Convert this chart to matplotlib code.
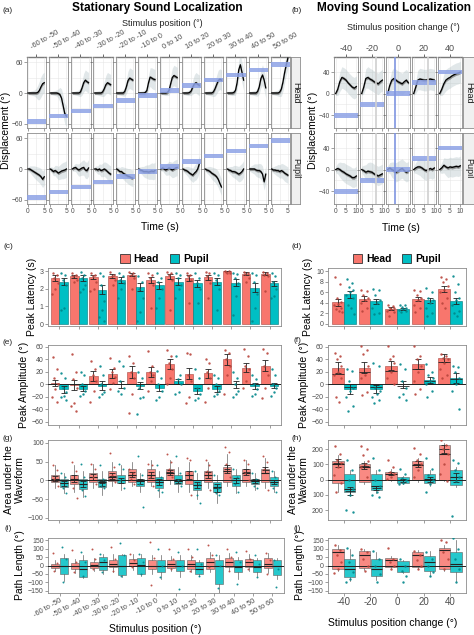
import matplotlib
matplotlib.use("Agg")
import matplotlib.pyplot as plt
import matplotlib.transforms as mtransforms
from matplotlib.patches import Patch
import numpy as np

plt.rcParams['font.family'] = ['Liberation Sans', 'DejaVu Sans']

W, H = 474, 635
RED = '#F8766D'
TEAL = '#00BFC4'
RED_DOT = '#b8453c'
TEAL_DOT = '#00878b'
BAND = '#8da2e6'
TXT = '#4d4d4d'

# ---------- data: (a) stationary traces ----------
STAT_POS = ["-60 to -50", "-50 to -40", "-40 to -30", "-30 to -20", "-20 to -10", "-10 to 0",
            "0 to 10", "10 to 20", "20 to 30", "30 to 40", "40 to 50", "50 to 60"]
STAT_TARGET = [-55, -45, -35, -25, -15, -5, 5, 15, 25, 35, 45, 55]
TIME_A = [0, 0.5, 1, 1.5, 2, 2.5, 3, 3.5, 4, 4.5, 5]
HEAD_A = [
    [0, 0, 0, 0, 0, 0, 1, 5, 12, 18, 20],
    [0, 0, 0, 0, 0, -1, -3, -10, -25, -40, -45],
    [0, 0, 0, 0, 0, 2, 10, 20, 25, 22, 20],
    [0, 0, 0, 0, 0, 2, 8, 16, 20, 18, 16],
    [0, 0, 0, 0, 0, 3, 12, 24, 29, 27, 25],
    [0, 0, 0, 0, 1, 5, 20, 31, 29, 27, 26],
    [0, 0, 0, 0, 1, 5, 18, 30, 34, 32, 30],
    [0, 0, 0, 0, 1, 4, 12, 18, 20, 17, 15],
    [0, 0, 0, 0, 0, 2, 8, 16, 24, 27, 25],
    [0, 0, 0, 0, 1, 5, 20, 45, 55, 40, 25],
    [0, 0, 0, 0, 0, 3, 12, 28, 35, 25, 10],
    [0, 0, 0, 0, 0, 2, 8, 22, 40, 55, 68],
]
PUPIL_A = [
    [0, 0, -2, -4, -6, -8, -10, -12, -15, -20, -15],
    [0, -2, -5, -3, -5, -8, -6, -4, -3, -2, 0],
    [0, 2, 3, 0, -2, 0, 2, 3, -2, -3, 2],
    [0, 0, -2, 0, -3, -2, 0, -2, -5, -8, -10],
    [0, -2, -5, -5, -8, -10, -12, -14, -15, -17, -18],
    [0, -2, -3, -5, -5, -5, -6, -5, -4, -5, -3],
    [0, 2, 0, -2, 0, 2, 0, -2, 0, 2, 3],
    [0, -2, -3, -5, -8, -10, -12, -8, -5, 0, 10],
    [0, -2, -3, -5, -8, -10, -12, -15, -20, -28, -35],
    [0, -2, -3, -5, -5, -6, -8, -10, -8, -5, 0],
    [0, 0, 0, 0, -2, -3, -3, -5, -10, -25, -10],
    [0, -2, -2, -3, -3, -5, -3, -5, -8, -10, -12],
]
SPREAD_HEAD_A = [2, 3, 4, 5, 6, 9, 14, 18, 20, 20, 20]
SPREAD_PUPIL_A = [4, 6, 8, 10, 12, 13, 14, 15, 16, 16, 16]

# ---------- data: (b) moving traces ----------
MOV_POS = [-40, -20, 0, 20, 40]
TIME_B = [0, 1, 2, 3, 4, 5, 6, 7, 8, 9, 10]
HEAD_B = [
    [0, 8, 22, 30, 28, 25, 20, 16, 12, 10, 13],
    [0, 12, 28, 30, 27, 25, 22, 20, 18, 22, 25],
    [0, 15, 25, 28, 25, 22, 20, 18, 22, 25, 20],
    [0, 12, 25, 27, 26, 25, 25, 26, 27, 26, 25],
    [0, 8, 18, 25, 28, 30, 33, 35, 37, 38, 40],
]
PUPIL_B = [
    [0, 2, 0, -3, -5, -8, -10, -12, -15, -15, -12],
    [0, -2, -5, -3, -4, -5, -8, -10, -12, -10, -8],
    [0, 3, 0, -2, -5, -3, 0, 2, -2, -5, -3],
    [0, 3, 5, 5, 3, 0, -2, 0, 2, 0, 3],
    [0, 3, 8, 5, 3, 5, 4, 5, 6, 5, 7],
]
SPREAD_HEAD_B = [3, 12, 18, 20, 20, 20, 20, 20, 20, 20, 20]
SPREAD_PUPIL_B = [6, 10, 14, 16, 18, 18, 18, 18, 18, 18, 18]
VLINE_B = {1: (7.1, '#d0d0d0'), 2: (3.6, '#7f95e0'), 3: (6.9, '#d0d0d0')}

# ---------- data: (c) / (d) peak latency ----------
C_HEAD = [2.6, 2.7, 2.65, 2.7, 2.8, 2.5, 2.7, 2.6, 2.65, 3.0, 2.85, 2.85]
C_HEAD_SE = [0.15, 0.1, 0.12, 0.12, 0.1, 0.18, 0.15, 0.15, 0.15, 0.02, 0.1, 0.1]
C_PUP = [2.4, 2.6, 1.95, 2.5, 2.1, 2.2, 2.4, 2.3, 2.4, 2.35, 2.05, 2.3]
C_PUP_SE = [0.2, 0.15, 0.25, 0.15, 0.25, 0.2, 0.2, 0.2, 0.2, 0.2, 0.25, 0.15]
C_HEAD_DOTS = [[2.9, 2.8, 2.6, 2.3, 2.0, 1.7], [2.9, 2.8, 2.7, 2.5, 2.4], [2.9, 2.8, 2.7, 2.4, 2.0, 1.9],
               [2.95, 2.8, 2.7, 2.5, 2.2], [2.95, 2.9, 2.8, 2.6, 2.0], [2.9, 2.8, 2.6, 2.2, 0.9],
               [2.95, 2.9, 2.8, 2.5, 0.8], [2.9, 2.8, 2.7, 2.5, 1.2], [2.95, 2.9, 2.7, 2.3, 1.5],
               [3.0, 2.98, 2.95, 2.9, 2.9], [2.95, 2.9, 2.85, 2.6, 2.4], [2.95, 2.9, 2.8, 2.7, 1.9]]
C_PUP_DOTS = [[2.9, 2.8, 2.5, 2.2, 0.9, 0.8], [2.95, 2.8, 2.6, 2.2, 2.0, 1.8], [2.9, 2.7, 2.2, 1.3, 0.8, 0.4, 0.2],
              [2.9, 2.7, 2.5, 2.3, 2.0, 1.5], [2.7, 2.4, 2.0, 1.5, 0.7, 0.2], [2.9, 2.6, 2.4, 2.0, 1.5, 0.9],
              [2.9, 2.8, 2.6, 2.2, 2.0, 1.5], [2.9, 2.6, 2.3, 2.0, 1.2], [2.9, 2.8, 2.5, 2.0, 0.8],
              [2.9, 2.85, 2.6, 2.3, 1.6, 0.5], [2.9, 2.8, 2.4, 1.7, 0.9, 0.2], [2.9, 2.7, 2.4, 2.0, 1.6, 1.5]]
D_HEAD = [4.1, 4.8, 2.9, 4.7, 6.6]
D_HEAD_SE = [0.7, 0.5, 0.25, 0.45, 0.6]
D_PUP = [5.6, 4.3, 2.9, 4.5, 4.4]
D_PUP_SE = [0.6, 0.5, 0.2, 0.5, 0.6]
D_HEAD_DOTS = [[8.8, 7.5, 5.0, 4.2, 3.8, 3.5, 3.0, 2.8, 2.5, 2.2], [6.5, 6.3, 5.5, 5.0, 4.5, 4.0, 3.0, 2.5],
               [3.6, 3.4, 3.1, 3.0, 2.8, 2.5, 2.2, 1.6], [6.5, 6.3, 5.5, 5.0, 4.5, 3.5, 3.0, 2.2],
               [8.8, 8.5, 8.0, 7.2, 6.5, 6.0, 5.0, 4.0, 3.0]]
D_PUP_DOTS = [[8.4, 7.8, 7.0, 6.5, 6.0, 5.5, 5.0, 3.5, 3.0, 1.8], [6.6, 6.5, 5.5, 4.5, 4.0, 3.0, 2.0, 1.8],
              [3.6, 3.5, 3.2, 3.0, 2.8, 2.6, 2.4, 2.2], [6.8, 6.0, 5.0, 4.5, 4.0, 3.0, 2.0, 1.6],
              [9.0, 7.5, 6.0, 5.0, 4.5, 3.5, 2.5, 2.0, 1.5]]

# ---------- data: (e) / (f) peak amplitude ----------
E_HEAD = [2, -1, 13, 17, 20, 20, 32, 17, 18, 40, 27, 30]
E_HEAD_SE = [5, 8, 8, 7, 10, 8, 8, 9, 7, 9, 7, 9]
E_PUP = [-8, -7, -2, 0, -2, -5, 5, -10, -7, 0, -2, -2]
E_PUP_SE = [5, 4, 7, 5, 6, 5, 4, 5, 5, 5, 5, 4]
E_HEAD_DOTS = [[44, 25, 10, 0, -8, -20, -28], [48, 20, 8, -5, -30, -35, -42], [38, 25, 15, 5, -10, -28],
               [42, 26, 20, 12, 2, -8], [45, 35, 20, 10, -15, -45], [53, 30, 20, 15, 5, -10],
               [55, 45, 35, 25, 10, 0], [50, 48, 15, 5, -20, -30], [40, 35, 20, 10, -5, -28],
               [55, 50, 40, 30, 15, -15], [57, 45, 30, 25, 5, -5], [57, 50, 30, 15, -5, -22]]
E_PUP_DOTS = [[18, 10, -5, -12, -18, -20, -25], [20, 15, 0, -10, -15, -18], [30, 15, 0, -12, -15, -20],
              [38, 30, 5, -5, -15, -10], [20, 10, -5, -20, -22, -48], [22, 10, 0, -10, -20, -25],
              [45, 15, 8, 0, -12, -15], [25, 10, -5, -15, -22, -25], [15, 10, 0, -10, -15, -18],
              [20, 10, 0, -10, -15, -20], [15, 8, 0, -8, -15, -18], [25, 15, 0, -5, -12, -18]]
F_HEAD = [27, 27, 30, 33, 42]
F_HEAD_SE = [9, 9, 7, 8, 6]
F_HEAD_MED = [17, 20, 22, 24, 36]
F_PUP = [-8, -7, 0, 7, 10]
F_PUP_SE = [8, 6, 6, 5, 8]
F_PUP_MED = [-4, -4, -3, 5, 8]
F_HEAD_DOTS = [[50, 45, 40, 30, 20, 15, 10, -20, -28], [62, 55, 48, 30, 15, 10, -12, -17],
               [62, 45, 40, 35, 20, 10, 0], [62, 45, 40, 30, 20, 5, -8, -15], [48, 45, 42, 40, 35, 25, 15, 10]]
F_PUP_DOTS = [[25, 22, 5, -5, -10, -20, -35, -42], [35, 30, -5, -10, -15, -20, -25, -30],
              [32, 25, 5, -5, -15, -20, -25], [32, 20, 15, 10, 5, 0, -10, -20], [30, 28, 20, 10, 0, -10, -40]]

# ---------- data: (g) / (h) area under the waveform ----------
G_HEAD_Q1 = [-5, -10, -5, -3, -5, -5, 0, -10, -5, -5, -5, -5]
G_HEAD_MED = [3, 5, 8, 10, 15, 15, 20, 15, 15, 25, 20, 20]
G_HEAD_Q3 = [15, 15, 20, 25, 30, 30, 30, 25, 25, 35, 30, 30]
G_HEAD_LO = [-20, -30, -20, -15, -15, -15, -10, -30, -20, -15, -15, -20]
G_HEAD_HI = [40, 40, 45, 50, 50, 55, 55, 50, 50, 70, 55, 60]
G_HEAD_MEAN = [5, 5, 10, 12, 15, 15, 22, 15, 15, 30, 22, 28]
G_HEAD_SE = [8, 10, 8, 8, 7, 8, 7, 10, 8, 10, 8, 8]
G_PUP_Q1 = [-18, -22, -18, -8, -15, -20, -10, -25, -30, -15, -10, -15]
G_PUP_MED = [-8, -10, -5, 0, -3, -5, -2, -12, -18, 0, -2, -5]
G_PUP_Q3 = [5, 5, 5, 15, 5, 10, 15, 0, -5, 15, 5, 10]
G_PUP_LO = [-35, -45, -40, -25, -30, -45, -30, -50, -60, -35, -25, -30]
G_PUP_HI = [20, 25, 25, 40, 20, 25, 35, 20, 15, 30, 20, 25]
G_PUP_MEAN = [-8, -10, -8, 0, -3, -5, -2, -12, -20, 0, -2, -5]
G_PUP_SE = [6, 8, 7, 6, 6, 8, 6, 8, 10, 7, 5, 6]
G_HEAD_DOTS = [[42, 28, 5, -15], [50, 25, -20, -48], [45, 30, 10, -10], [72, 35, 15, -5],
               [30, 20, 5, -10], [45, 40, 10, -15], [70, 50, 30, 10], [60, 55, 20, -40],
               [55, 40, 25, -25], [90, 75, 45, 10], [55, 45, 20, 0], [65, 50, 30, -25]]
G_PUP_DOTS = [[20, 10, -20, -35], [45, 10, -25, -42], [40, 5, -15, -20], [45, 30, 0, -20],
              [65, 15, -10, -70], [40, 10, -25, -30], [65, 20, 0, -15], [25, -10, -40, -60],
              [15, -20, -35, -40], [30, 10, -10, -30], [20, 5, -15, -20], [25, 10, -20, -30]]
H_HEAD_Q1 = [-20, -15, -5, -5, -5]
H_HEAD_MED = [100, 85, 35, 95, 170]
H_HEAD_Q3 = [125, 100, 50, 125, 225]
H_HEAD_LO = [-80, -30, -10, -15, -10]
H_HEAD_HI = [160, 120, 70, 145, 240]
H_HEAD_MEAN = [110, 90, 40, 105, 200]
H_HEAD_SE = [25, 20, 10, 20, 25]
H_PUP_Q1 = [-80, -65, -25, -25, -35]
H_PUP_MED = [-60, -40, 0, 5, 15]
H_PUP_Q3 = [35, 40, 20, 35, 60]
H_PUP_LO = [-105, -85, -30, -40, -50]
H_PUP_HI = [60, 60, 25, 60, 80]
H_PUP_MEAN = [-75, -55, -5, 0, 15]
H_PUP_SE = [25, 15, 8, 15, 30]
H_HEAD_DOTS = [[220, 170, 130, 110, 80, 30, -20, -80], [220, 200, 160, 120, 100, 80, 20],
               [130, 80, 50, 40, 20, 5], [210, 170, 130, 100, 60, 20], [260, 230, 200, 170, 100, 40, -10]]
H_PUP_DOTS = [[130, 60, 0, -60, -100, -200, -215], [140, 60, 0, -40, -80, -100, -115],
              [70, 40, 10, 0, -20, -30], [140, 70, 30, 0, -30, -80], [130, 110, 60, 20, -10, -240]]

# ---------- data: (i) / (j) path length ----------
I_HEAD_Q1 = [-15, -20, -15, -10, -5, -20, -15, -20, -20, -10, -10, -15]
I_HEAD_MED = [-5, 0, 5, 10, 15, 0, 10, 10, 20, 20, 20, 10]
I_HEAD_Q3 = [10, 15, 20, 35, 40, 30, 35, 35, 45, 45, 40, 45]
I_HEAD_LO = [-30, -45, -30, -40, -25, -50, -35, -40, -40, -30, -30, -45]
I_HEAD_HI = [30, 40, 45, 65, 65, 60, 55, 60, 80, 75, 65, 75]
I_PUP_Q1 = [-50, -70, -25, -55, -50, -40, -30, -50, -110, -40, -40, -55]
I_PUP_MED = [0, -20, 20, 0, 5, -5, -5, -20, 0, -10, -10, -5]
I_PUP_Q3 = [45, 35, 50, 60, 45, 35, 35, 20, 35, 30, 30, 30]
I_PUP_LO = [-90, -75, -50, -70, -60, -80, -70, -60, -170, -80, -60, -80]
I_PUP_HI = [70, 60, 70, 70, 65, 60, 60, 30, 60, 50, 45, 45]
I_HEAD_DOTS = [[75, 15, -30], [90, 20, -40], [95, 40, -20], [110, 40, -30], [70, 30, -10], [140, 45, -115],
               [100, 40, -20], [95, 50, -30], [120, 60, -10], [100, 50, -30], [85, 40, -20], [75, 30, -50]]
I_PUP_DOTS = [[110, 40, -95], [80, 20, -60], [70, 30, -40], [130, 60, -60], [70, 20, -50], [100, 0, -70],
              [80, 0, -140], [95, 10, -60], [60, 0, -130], [80, 20, -110], [60, 10, -70], [30, -20, -125]]
J_HEAD_Q1 = [-20, -15, -10, -10, -20]
J_HEAD_MED = [80, 60, 30, 60, 90]
J_HEAD_Q3 = [100, 85, 45, 80, 105]
J_HEAD_LO = [-30, -25, -15, -20, -30]
J_HEAD_HI = [120, 100, 55, 90, 120]
J_PUP_Q1 = [-65, -60, -40, -30, -40]
J_PUP_MED = [-20, -20, 0, 20, 10]
J_PUP_Q3 = [40, 40, 25, 55, 80]
J_PUP_LO = [-90, -85, -45, -60, -90]
J_PUP_HI = [100, 80, 30, 85, 150]
J_HEAD_DOTS = [[120, 90, 60, 20, -20, -45], [100, 80, 40, 0, -30], [105, 40, 20, 0, -20],
               [85, 60, 30, 0, -20], [150, 140, 80, 40, -20]]
J_PUP_DOTS = [[105, 60, 20, -40, -80, -95], [85, 40, 0, -50, -95], [40, 0, -30, -60, -100],
              [80, 40, 0, -40, -60], [160, 100, 40, -20, -95]]

JITTER = [-0.12, 0.08, -0.04, 0.13, 0.01, -0.15, 0.1, -0.08, 0.05, 0.15]

fig = plt.figure(figsize=(W / 100, H / 100), dpi=100)


def add_ax(x0, y0, x1, y1):
    return fig.add_axes([x0 / W, 1 - y1 / H, (x1 - x0) / W, (y1 - y0) / H])


def tidy(ax, size=5):
    for s in ax.spines.values():
        s.set_color('#8c8c8c')
        s.set_linewidth(0.6)
    ax.tick_params(labelsize=size, labelcolor=TXT, color='#555555', length=2, width=0.4, pad=1)


def dots(ax, pos, groups, color, s=3):
    for p, vals in zip(pos, groups):
        xs = [p + JITTER[k % len(JITTER)] for k in range(len(vals))]
        ax.scatter(xs, vals, s=s, color=color, lw=0, zorder=5, alpha=0.9)


def trace_panel(ax, t, mean, spread, target, ylim, xlim):
    t = np.array(t)
    mean = np.array(mean, dtype=float)
    spread = np.array(spread, dtype=float)
    ax.set_xlim(*xlim)
    ax.set_ylim(*ylim)
    ax.grid(True, which='both', color='#e6e6e6', lw=0.4)
    ax.set_axisbelow(True)
    ax.fill_between(t, mean - spread, mean + spread, color='#a9bcc0', alpha=0.35, lw=0, zorder=1)
    ax.fill_between(t, mean - 3, mean + 3, color='#555555', alpha=0.55, lw=0, zorder=2)
    ax.plot(t, mean, color='black', lw=0.9, zorder=3)
    ax.axhspan(target - 4.5, target + 4.5, color=BAND, alpha=0.85, lw=0, zorder=4)
    tidy(ax, size=4.8)


def strip(x0, y0, x1, y1, label):
    s = add_ax(x0, y0, x1, y1)
    s.set_facecolor('#f0f0f0')
    s.set_xticks([])
    s.set_yticks([])
    for sp in s.spines.values():
        sp.set_color('#8c8c8c')
        sp.set_linewidth(0.6)
    s.text(0.5, 0.5, label, rotation=-90, ha='center', va='center', fontsize=6.5,
           color='#1a1a1a', transform=s.transAxes)


rows = [(57, 128), (133, 204)]

# ---------- panel (a) ----------
step_a = (290 - 27 + 2.8) / 12
for j in range(12):
    x0 = 27 + j * step_a
    for r, (y0, y1) in enumerate(rows):
        ax = add_ax(x0, y0, x0 + 19.2, y1)
        data = HEAD_A if r == 0 else PUPIL_A
        spread = SPREAD_HEAD_A if r == 0 else SPREAD_PUPIL_A
        trace_panel(ax, TIME_A, data[j], spread, STAT_TARGET[j], (-68, 70), (-0.3, 5.6))
        ax.set_xticks([0, 5])
        ax.set_xticks([2.5], minor=True)
        ax.set_yticks([-60, 0, 60])
        ax.set_yticks([-30, 30], minor=True)
        ax.tick_params(which='minor', length=0)
        if r == 0:
            ax.set_xticklabels([])
            top = ax.secondary_xaxis('top')
            top.set_xticks([2.5])
            top.set_xticklabels([])
            top.tick_params(length=2, width=0.5, color='#333333')
            top.spines['top'].set_color('#222222')
            top.spines['top'].set_linewidth(0.9)
            tr = ax.transAxes + mtransforms.ScaledTranslation(-0.05, 0.08, fig.dpi_scale_trans)
            ax.text(0.5, 1.0, STAT_POS[j], transform=tr, rotation=30, rotation_mode='anchor',
                    ha='left', va='baseline', fontsize=5.3, color=TXT)
        if j > 0:
            ax.set_yticklabels([])
    if j == 11:
        for r, (y0, y1) in enumerate(rows):
            strip(x0 + 20.5, y0, x0 + 29.5, y1, 'Head' if r == 0 else 'Pupil')

# ---------- panel (b) ----------
for j in range(5):
    x0 = 334 + j * 26
    for r, (y0, y1) in enumerate(rows):
        ax = add_ax(x0, y0, x0 + 24, y1)
        data = HEAD_B if r == 0 else PUPIL_B
        spread = SPREAD_HEAD_B if r == 0 else SPREAD_PUPIL_B
        trace_panel(ax, TIME_B, data[j], spread, MOV_POS[j], (-64, 68), (-0.8, 10.8))
        if j in VLINE_B:
            tv, cv = VLINE_B[j]
            ax.axvline(tv, color=cv, lw=1.2, zorder=4)
        ax.set_xticks([0, 5, 10])
        ax.set_yticks([-40, 0, 40])
        ax.set_yticks([-20, 20], minor=True)
        ax.tick_params(which='minor', length=0)
        if r == 0:
            ax.set_xticklabels([])
            top = ax.secondary_xaxis('top')
            top.set_xticks([5])
            top.set_xticklabels([str(MOV_POS[j])])
            top.tick_params(length=2, width=0.5, color='#333333', labelsize=6.5, labelcolor=TXT, pad=1)
            top.spines['top'].set_color('#222222')
            top.spines['top'].set_linewidth(0.9)
        if j > 0:
            ax.set_yticklabels([])
    if j == 4:
        for r, (y0, y1) in enumerate(rows):
            strip(x0 + 25, y0, x0 + 37, y1, 'Head' if r == 0 else 'Pupil')

fig.text(157 / W, 1 - 8 / H, 'Stationary Sound Localization', ha='center', va='center',
         fontsize=8.6, fontweight='bold')
fig.text(394 / W, 1 - 8 / H, 'Moving Sound Localization', ha='center', va='center',
         fontsize=8.6, fontweight='bold')
fig.text(162 / W, 1 - 24 / H, 'Stimulus position (°)', ha='center', va='center', fontsize=6.5, color='#222222')
fig.text(403 / W, 1 - 28 / H, 'Stimulus position change (°)', ha='center', va='center', fontsize=6.5,
         color='#222222')
fig.text(6 / W, 1 - 130 / H, 'Displacement (°)', rotation=90, ha='center', va='center', fontsize=7.5)
fig.text(313 / W, 1 - 130 / H, 'Displacement (°)', rotation=90, ha='center', va='center', fontsize=7.5)
fig.text(160 / W, 1 - 227 / H, 'Time (s)', ha='center', va='center', fontsize=7.5)
fig.text(401 / W, 1 - 228 / H, 'Time (s)', ha='center', va='center', fontsize=7.5)

# ---------- lower panels ----------
LEFT = (48, 281)
RIGHT = (328, 466)
pos12 = np.arange(1, 13)
pos5 = np.arange(1, 6)
OFF = 0.225
BW = 0.45


def base(ax, n, ylim, yticks, ylabel, yticklabels=None):
    ax.set_xlim(0.4, n + 0.6)
    ax.set_ylim(*ylim)
    ax.set_xticks(np.arange(1, n + 1))
    ax.set_xticklabels([])
    ax.set_yticks(yticks)
    if yticklabels is not None:
        ax.set_yticklabels(yticklabels)
    ax.set_ylabel(ylabel, fontsize=7.5, labelpad=2)
    tidy(ax)


def bars(ax, pos, head, head_se, pup, pup_se, hdots, pdots):
    ax.bar(pos - OFF, head, width=BW, color=RED, edgecolor='#a8463f', lw=0.4, zorder=2)
    ax.bar(pos + OFF, pup, width=BW, color=TEAL, edgecolor='#00777a', lw=0.4, zorder=2)
    ax.errorbar(pos - OFF, head, yerr=head_se, fmt='none', ecolor='#222222', elinewidth=0.6,
                capsize=2, capthick=0.6, zorder=4)
    ax.errorbar(pos + OFF, pup, yerr=pup_se, fmt='none', ecolor='#222222', elinewidth=0.6,
                capsize=2, capthick=0.6, zorder=4)
    dots(ax, pos - OFF, hdots, RED_DOT)
    dots(ax, pos + OFF, pdots, TEAL_DOT)


def boxes(ax, pos, q1, med, q3, lo, hi, color, width=0.42):
    stats = [dict(q1=a, med=b, q3=c, whislo=d, whishi=e, fliers=[]) for a, b, c, d, e in
             zip(q1, med, q3, lo, hi)]
    ax.bxp(stats, positions=pos, widths=width, patch_artist=True, showfliers=False, manage_ticks=False,
           boxprops=dict(facecolor=color, edgecolor='#666666', linewidth=0.5, alpha=0.85),
           medianprops=dict(color='#222222', linewidth=0.8),
           whiskerprops=dict(color='#666666', linewidth=0.5),
           capprops=dict(linewidth=0))


def mean_err(ax, pos, mean, se):
    ax.errorbar(pos, mean, yerr=se, fmt='none', ecolor='#222222', elinewidth=0.6,
                capsize=2.5, capthick=0.6, zorder=4)
    ax.hlines(mean, pos - 0.18, pos + 0.18, color='#222222', lw=0.6, zorder=4)


# (c)
ax = add_ax(LEFT[0], 268, LEFT[1], 326)
bars(ax, pos12, C_HEAD, C_HEAD_SE, C_PUP, C_PUP_SE, C_HEAD_DOTS, C_PUP_DOTS)
base(ax, 12, (-0.1, 3.17), [0, 1, 2, 3], 'Peak Latency (s)')
leg_handles = [Patch(facecolor=RED, edgecolor='#333333', lw=0.6, label='Head'),
               Patch(facecolor=TEAL, edgecolor='#333333', lw=0.6, label='Pupil')]
ax.legend(handles=leg_handles, loc='lower center', bbox_to_anchor=(0.5, 0.98), ncol=2, frameon=False,
          handlelength=0.9, handleheight=0.9, handletextpad=0.4, columnspacing=1.0,
          borderpad=0, prop={'weight': 'bold', 'size': 7.5})

# (d)
ax = add_ax(RIGHT[0], 268, RIGHT[1], 326)
bars(ax, pos5, D_HEAD, D_HEAD_SE, D_PUP, D_PUP_SE, D_HEAD_DOTS, D_PUP_DOTS)
base(ax, 5, (-0.38, 10.57), [0, 2, 4, 6, 8, 10], 'Peak Latency (s)')
ax.legend(handles=leg_handles, loc='lower center', bbox_to_anchor=(0.5, 0.98), ncol=2, frameon=False,
          handlelength=0.9, handleheight=0.9, handletextpad=0.4, columnspacing=1.0,
          borderpad=0, prop={'weight': 'bold', 'size': 7.5})

# (e)
ax = add_ax(LEFT[0], 345, LEFT[1], 425)
ax.axhline(0, color='#222222', lw=0.7, zorder=3)
bars(ax, pos12, E_HEAD, E_HEAD_SE, E_PUP, E_PUP_SE, E_HEAD_DOTS, E_PUP_DOTS)
base(ax, 12, (-65, 63), [-60, -40, -20, 0, 20, 40, 60], 'Peak Amplitude (°)')

# (f)
ax = add_ax(RIGHT[0], 345, RIGHT[1], 425)
ax.axhline(0, color='#222222', lw=0.7, zorder=3)
bars(ax, pos5, F_HEAD, F_HEAD_SE, F_PUP, F_PUP_SE, F_HEAD_DOTS, F_PUP_DOTS)
ax.hlines(F_HEAD_MED, pos5 - OFF - BW / 2, pos5 - OFF + BW / 2, color='#222222', lw=0.6, zorder=4)
ax.hlines(F_PUP_MED, pos5 + OFF - BW / 2, pos5 + OFF + BW / 2, color='#222222', lw=0.6, zorder=4)
base(ax, 5, (-65, 63), [-60, -40, -20, 0, 20, 40, 60], 'Peak Amplitude (°)')

# (g)
ax = add_ax(LEFT[0], 440, LEFT[1], 520)
boxes(ax, pos12 - OFF, G_HEAD_Q1, G_HEAD_MED, G_HEAD_Q3, G_HEAD_LO, G_HEAD_HI, RED)
boxes(ax, pos12 + OFF, G_PUP_Q1, G_PUP_MED, G_PUP_Q3, G_PUP_LO, G_PUP_HI, TEAL)
mean_err(ax, pos12 - OFF, G_HEAD_MEAN, G_HEAD_SE)
mean_err(ax, pos12 + OFF, G_PUP_MEAN, G_PUP_SE)
dots(ax, pos12 - OFF, G_HEAD_DOTS, RED_DOT, s=2)
dots(ax, pos12 + OFF, G_PUP_DOTS, TEAL_DOT, s=2)
ax.axhline(0, color='#222222', lw=0.7, zorder=3)
base(ax, 12, (-106, 108), [-100, -50, 0, 50, 100], 'Area under the\nWaveform')

# (h)
ax = add_ax(RIGHT[0], 440, RIGHT[1], 520)
boxes(ax, pos5 - OFF, H_HEAD_Q1, H_HEAD_MED, H_HEAD_Q3, H_HEAD_LO, H_HEAD_HI, RED)
boxes(ax, pos5 + OFF, H_PUP_Q1, H_PUP_MED, H_PUP_Q3, H_PUP_LO, H_PUP_HI, TEAL)
mean_err(ax, pos5 - OFF, H_HEAD_MEAN, H_HEAD_SE)
mean_err(ax, pos5 + OFF, H_PUP_MEAN, H_PUP_SE)
dots(ax, pos5 - OFF, H_HEAD_DOTS, RED_DOT)
dots(ax, pos5 + OFF, H_PUP_DOTS, TEAL_DOT)
ax.axhline(0, color='#222222', lw=0.7, zorder=3)
base(ax, 5, (-265, 260), [-200, -100, 0, 100, 200], 'Area under the\nWaveform',
     yticklabels=['200', '100', '0', '100', '200'])

# (i)
ax = add_ax(LEFT[0], 538, 284, 593)
boxes(ax, pos12 - OFF, I_HEAD_Q1, I_HEAD_MED, I_HEAD_Q3, I_HEAD_LO, I_HEAD_HI, RED)
boxes(ax, pos12 + OFF, I_PUP_Q1, I_PUP_MED, I_PUP_Q3, I_PUP_LO, I_PUP_HI, TEAL)
dots(ax, pos12 - OFF, I_HEAD_DOTS, RED_DOT, s=2)
dots(ax, pos12 + OFF, I_PUP_DOTS, TEAL_DOT, s=2)
ax.axhline(0, color='#222222', lw=0.7, zorder=3)
base(ax, 12, (-162, 162), [-150, -100, -50, 0, 50, 100, 150], 'Path Length (°)')
ax.set_xticklabels(STAT_POS, rotation=30, ha='right', rotation_mode='anchor', fontsize=5.3)

# (j)
ax = add_ax(RIGHT[0], 538, RIGHT[1], 593)
boxes(ax, pos5 - OFF, J_HEAD_Q1, J_HEAD_MED, J_HEAD_Q3, J_HEAD_LO, J_HEAD_HI, RED)
boxes(ax, pos5 + OFF, J_PUP_Q1, J_PUP_MED, J_PUP_Q3, J_PUP_LO, J_PUP_HI, TEAL)
dots(ax, pos5 - OFF, J_HEAD_DOTS, RED_DOT)
dots(ax, pos5 + OFF, J_PUP_DOTS, TEAL_DOT)
ax.axhline(0, color='#222222', lw=0.7, zorder=3)
base(ax, 5, (-162, 162), [-150, -100, -50, 0, 50, 100, 150], 'Path Length (°)')
ax.set_xticklabels([str(v) for v in MOV_POS], fontsize=7)

fig.text(155 / W, 1 - 629 / H, 'Stimulus position (°)', ha='center', va='center', fontsize=7.5)
fig.text(393 / W, 1 - 623 / H, 'Stimulus position change (°)', ha='center', va='center', fontsize=7.5)

# panel letters
for lab, x, y in [('(a)', 8, 10), ('(b)', 297, 10), ('(c)', 8, 246), ('(d)', 297, 246),
                  ('(e)', 8, 342), ('(f)', 297, 341), ('(g)', 8, 438), ('(h)', 297, 438),
                  ('(i)', 8, 528), ('(j)', 297, 528)]:
    fig.text(x / W, 1 - y / H, lab, ha='center', va='center', fontsize=6, color='#222222')

fig.savefig('out.png', dpi=100)
